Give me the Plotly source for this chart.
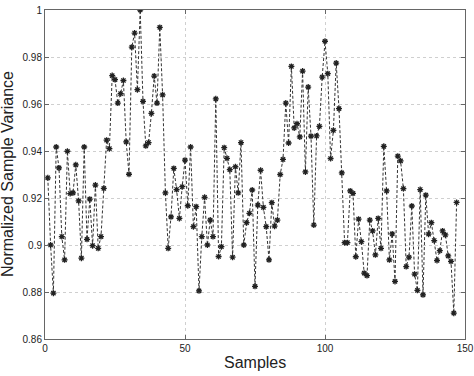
import plotly.graph_objects as go

samples = list(range(1, 148))
variance = [
    0.9286, 0.900, 0.8795, 0.9417, 0.9328, 0.9036, 0.8937, 0.9399, 0.9219, 0.9222,
    0.9341, 0.9188, 0.8944, 0.9417, 0.9024, 0.9195, 0.8997, 0.9255, 0.8986, 0.9036,
    0.9241, 0.9446, 0.941, 0.9721, 0.9704, 0.9604, 0.9644, 0.970, 0.9439, 0.9301,
    0.9842, 0.9902, 0.9661, 1.000, 0.9611, 0.9422, 0.9436, 0.956, 0.9719, 0.9604,
    0.9926, 0.9639, 0.9222, 0.8986, 0.912, 0.9326, 0.9236, 0.9113, 0.9248, 0.9361,
    0.9167, 0.9417, 0.9078, 0.9163, 0.8805, 0.9036, 0.9203, 0.900, 0.9106, 0.9036,
    0.9622, 0.8951, 0.8993, 0.9414, 0.9369, 0.9321, 0.8948, 0.9333, 0.9222, 0.9436,
    0.900, 0.9095, 0.9135, 0.9234, 0.8824, 0.917, 0.9318, 0.916, 0.9078, 0.8937,
    0.918, 0.908, 0.9106, 0.930, 0.9364, 0.9604, 0.9434, 0.976, 0.9498, 0.9516,
    0.946, 0.974, 0.9311, 0.9672, 0.9463, 0.9085, 0.9464, 0.9505, 0.9714, 0.9867,
    0.9729, 0.9368, 0.9488, 0.9774, 0.958, 0.9307, 0.901, 0.901, 0.923, 0.922,
    0.895, 0.911, 0.9014, 0.888, 0.887, 0.9106, 0.906, 0.8958, 0.9113, 0.8986,
    0.942, 0.923, 0.8937, 0.9047, 0.8845, 0.9378, 0.9358, 0.924, 0.8908, 0.8948,
    0.9166, 0.8876, 0.8807, 0.9236, 0.8788, 0.9212, 0.9046, 0.9095, 0.9019, 0.8934,
    0.8976, 0.906, 0.9043, 0.8954, 0.893, 0.871, 0.9181,
]

x_ticks = [0, 50, 100, 150]
y_ticks = [0.86, 0.88, 0.90, 0.92, 0.94, 0.96, 0.98, 1.0]
y_tick_labels = ["0.86", "0.88", "0.9", "0.92", "0.94", "0.96", "0.98", "1"]

FONT = "Liberation Sans, Arial"

fig = go.Figure()
fig.add_trace(go.Scatter(
    x=samples, y=variance, mode="lines+markers",
    line=dict(color="#333333", width=1, dash="3px,2px"),
    marker=dict(symbol="asterisk", size=5, color="#222222",
                line=dict(color="#222222", width=1.3)),
    showlegend=False,
))

axis_common = dict(
    showline=True, mirror="ticks", linecolor="#666666", linewidth=1,
    ticks="inside", ticklen=4, tickcolor="#666666",
    showgrid=True, gridcolor="#cfcfcf", griddash="dot", gridwidth=1,
    zeroline=False,
    tickfont=dict(family=FONT, size=10, color="#222222"),
)

fig.update_xaxes(range=[0, 150], tickvals=x_ticks,
                 ticktext=[str(t) for t in x_ticks], **axis_common)
fig.update_yaxes(range=[0.86, 1.0], tickvals=y_ticks,
                 ticktext=y_tick_labels, **axis_common)

fig.add_annotation(
    text="Samples", xref="paper", yref="paper", x=0.5, y=0,
    xanchor="center", yanchor="top", yshift=-13, showarrow=False,
    font=dict(family=FONT, size=16, color="#222222"),
)
fig.add_annotation(
    text="Normalized Sample Variance", xref="paper", yref="paper", x=0, y=0.5,
    xanchor="right", yanchor="middle", xshift=-27, textangle=-90, showarrow=False,
    font=dict(family=FONT, size=16, color="#222222"),
)

fig.update_layout(
    width=474, height=376,
    margin=dict(l=45, r=9, t=10, b=37, autoexpand=False),
    paper_bgcolor="white", plot_bgcolor="white",
)

fig.write_html(
    "out.html",
    config={"displayModeBar": False},
    post_script="document.body.style.margin='0';document.body.style.overflow='hidden';",
)
